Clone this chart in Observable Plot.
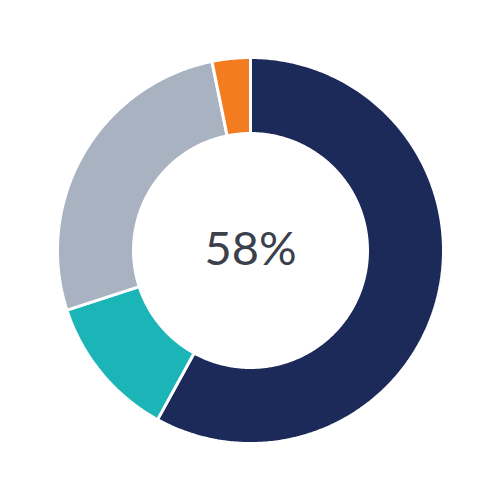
<!DOCTYPE html>
<html>
<head>
<meta charset="utf-8">
<script src="https://cdn.jsdelivr.net/npm/d3@7"></script>
<script src="https://cdn.jsdelivr.net/npm/@observablehq/plot@0.6"></script>
<style>
  html, body { margin: 0; padding: 0; background: #fff; }
  #chart { width: 500px; height: 500px; }
</style>
</head>
<body>
<div id="chart"></div>
<script>
const categories = ["A", "B", "C", "D"];
const values = [58, 12, 26.8, 3.2];
const colors = ["#1c2a5a", "#1bb5b8", "#a8b2c1", "#f47c20"];
const centerLabel = "58%";

const outerR = 193, innerR = 117;

const pie = d3.pie().sort(null).value(d => d.value)(categories.map((c, i) => ({cat: c, value: values[i]})));
const pts = [];
for (const a of pie) {
  const n = Math.max(4, Math.ceil((a.endAngle - a.startAngle) / 0.01));
  for (let k = 0; k <= n; k++) {
    const t = a.startAngle + (a.endAngle - a.startAngle) * k / n;
    pts.push({cat: a.data.cat, x: outerR * Math.sin(t), y: outerR * Math.cos(t)});
  }
  for (let k = n; k >= 0; k--) {
    const t = a.startAngle + (a.endAngle - a.startAngle) * k / n;
    pts.push({cat: a.data.cat, x: innerR * Math.sin(t), y: innerR * Math.cos(t)});
  }
}

const chart = Plot.plot({
  width: 500,
  height: 500,
  margin: 0,
  x: {domain: [-250, 250], axis: null},
  y: {domain: [-250, 250], axis: null},
  color: {domain: categories, range: colors},
  marks: [
    Plot.line(pts, {x: "x", y: "y", z: "cat", fill: "cat", stroke: "white", strokeWidth: 3, curve: "linear-closed", strokeLinejoin: "miter"}),
    Plot.text([centerLabel], {x: () => 0, y: () => 0, text: d => d, fontSize: 47, fontFamily: "Lato", fill: "#3b404c", textAnchor: "middle", dy: -1})
  ]
});
document.getElementById("chart").appendChild(chart);
</script>
</body>
</html>
